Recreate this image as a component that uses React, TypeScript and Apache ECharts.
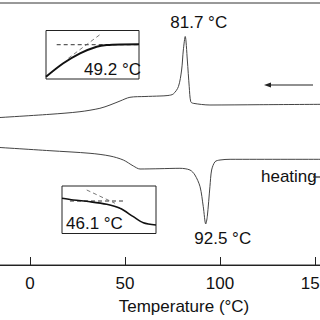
import React, { useEffect, useRef } from "react";
import * as echarts from "echarts";

// Main DSC curves: [temperature °C, heat flow (a.u.)]
const coolingCurve: [number, number][] = [
  [-20, 14.7], [10.5, 15.07], [26.3, 15.33], [36.8, 15.67], [42.1, 16.0], [47.4, 16.4],
  [52.6, 16.77], [60.5, 16.85], [68.4, 16.9], [72.6, 16.95], [75.4, 17.1], [78.1, 17.83],
  [79.8, 19.5], [80.7, 21.5], [81.7, 22.85], [82.8, 20.5], [83.8, 17.83], [84.6, 16.33],
  [85.9, 16.17], [94.7, 16.0], [121, 16.03], [155, 16.07],
];
const heatingCurve: [number, number][] = [
  [-20, 11.8], [10.5, 11.43], [31.6, 11.17], [42.1, 10.9], [49.1, 10.5], [54.4, 9.9],
  [57.9, 9.6], [68.4, 9.63], [78.9, 9.67], [84.2, 9.5], [86.8, 9.0], [89.5, 7.83],
  [91.2, 5.83], [92.5, 4.1], [93.3, 4.83], [94.7, 7.83], [95.6, 9.5], [97.4, 10.33],
  [100, 10.5], [105.3, 10.57], [155, 10.57],
];
const peakLabels = ["81.7 °C", "92.5 °C"];
const peakCoords: [number, number][] = [[81.7, 22.85], [92.5, 4.1]];
const tickValues = [0, 50, 100, 150];

// Inset curves (relative units 0-100)
const inset1Solid: [number, number][] = [
  [0, 4.7], [18.6, 32.4], [36.6, 53], [54.5, 66.6], [65.3, 70.1], [80, 71.3], [100, 71.5],
];
const inset1Horizontal: [number, number][] = [[11.5, 70.7], [100, 70.7]];
const inset1Tangent: [number, number][] = [[24, 42.7], [59.9, 94.2]];
const inset2Solid: [number, number][] = [
  [0, 74.1], [12, 70.5], [29.8, 66.9], [47.6, 61.5], [61.7, 53], [75.9, 35.4], [86.5, 22.7], [100, 17.9],
];
const inset2Horizontal: [number, number][] = [[8.5, 68.4], [67, 68.4]];
const inset2Tangent: [number, number][] = [[26.3, 91.6], [56.4, 63.6]];
const insetLabels = ["49.2 °C", "46.1 °C"];

const FONT = "'Liberation Sans', Arial, Helvetica, sans-serif";
const INK = "#111";

export default function App() {
  const ref = useRef<HTMLDivElement>(null);
  useEffect(() => {
    if (!ref.current) return;
    const chart = echarts.init(ref.current, null, { renderer: "svg" });
    const hiddenAxis = (gridIndex: number) => ({
      type: "value" as const, gridIndex, min: 0, max: 100, show: false,
    });
    const insetLine = (idx: number, data: [number, number][], width: number, color: string, dashed: boolean) => ({
      type: "line", xAxisIndex: idx, yAxisIndex: idx, data, symbol: "none", smooth: dashed ? false : 0.3,
      silent: true,
      lineStyle: { width, color, type: dashed ? [4, 3] : "solid" },
    });
    chart.setOption({
      animation: false,
      backgroundColor: "#fff",
      textStyle: { fontFamily: FONT },
      grid: [
        { left: -65, right: -90, top: 3, bottom: 55, show: true, borderColor: "#333", borderWidth: 1, outerBoundsMode: "none", containLabel: false },
        { left: 46, top: 30.5, width: 93, height: 48.5, show: true, borderColor: "#222", borderWidth: 1, backgroundColor: "#fff", outerBoundsMode: "none" },
        { left: 62, top: 186, width: 94, height: 47.5, show: true, borderColor: "#222", borderWidth: 1, backgroundColor: "#fff", outerBoundsMode: "none" },
      ],
      xAxis: [
        {
          type: "value", gridIndex: 0, min: -50, max: 200, interval: 50,
          name: "Temperature (°C)", nameLocation: "middle", nameGap: 33,
          nameTextStyle: { fontSize: 17, color: INK, fontFamily: FONT, padding: [0, 0, 0, 23] },
          axisLine: { lineStyle: { color: "#222", width: 1 } },
          axisTick: { inside: true, length: 8, lineStyle: { color: "#222" }, customValues: tickValues },
          axisLabel: { fontSize: 17, color: INK, margin: 10, fontFamily: FONT, customValues: tickValues },
          splitLine: { show: false },
        },
        hiddenAxis(1),
        hiddenAxis(2),
      ],
      yAxis: [
        { type: "value", gridIndex: 0, min: 0, max: 26.2, show: false },
        hiddenAxis(1),
        hiddenAxis(2),
      ],
      series: [
        {
          type: "line", name: "cooling", data: coolingCurve, symbol: "none", smooth: 0.3,
          lineStyle: { color: "#444", width: 1 },
          markPoint: {
            symbol: "circle", symbolSize: 0,
            data: [{ coord: peakCoords[0], value: peakLabels[0] }],
            label: { show: true, position: "inside", offset: [13.5, -14.5], formatter: peakLabels[0], fontSize: 17, color: INK, fontFamily: FONT },
          },
        },
        {
          type: "line", name: "heating", data: heatingCurve, symbol: "none", smooth: 0.3,
          lineStyle: { color: "#444", width: 1 },
          markPoint: {
            symbol: "circle", symbolSize: 0,
            data: [{ coord: peakCoords[1], value: peakLabels[1] }],
            label: { show: true, position: "inside", offset: [17, 14.5], formatter: peakLabels[1], fontSize: 17, color: INK, fontFamily: FONT },
          },
        },
        insetLine(1, inset1Horizontal, 1, "#333", true),
        insetLine(1, inset1Tangent, 0.8, "#555", true),
        insetLine(1, inset1Solid, 2, "#111", false),
        insetLine(2, inset2Horizontal, 1, "#333", true),
        insetLine(2, inset2Tangent, 0.8, "#555", true),
        insetLine(2, inset2Solid, 1.6, "#111", false),
      ],
      graphic: [
        { type: "text", x: 141, y: 69, z: 100, style: { text: insetLabels[0], align: "right", verticalAlign: "middle", fontSize: 17, fill: INK, fontFamily: FONT } },
        { type: "text", x: 66, y: 223, z: 100, style: { text: insetLabels[1], align: "left", verticalAlign: "middle", fontSize: 17, fill: INK, fontFamily: FONT } },
        { type: "line", shape: { x1: 269, y1: 85, x2: 313, y2: 85 }, style: { stroke: "#222", lineWidth: 1.2 } },
        { type: "polygon", shape: { points: [[264, 85], [271, 82.5], [271, 87.5]] }, style: { fill: "#222" } },
        { type: "text", x: 261, y: 176, style: { text: "heating", align: "left", verticalAlign: "middle", fontSize: 17, fill: INK, fontFamily: FONT } },
        { type: "line", shape: { x1: 313, y1: 177, x2: 320, y2: 177 }, style: { stroke: "#222", lineWidth: 1.2 } },
      ],
    });
    return () => chart.dispose();
  }, []);
  return <div ref={ref} style={{ position: "absolute", left: 0, top: 0, width: 320, height: 320 }} />;
}
